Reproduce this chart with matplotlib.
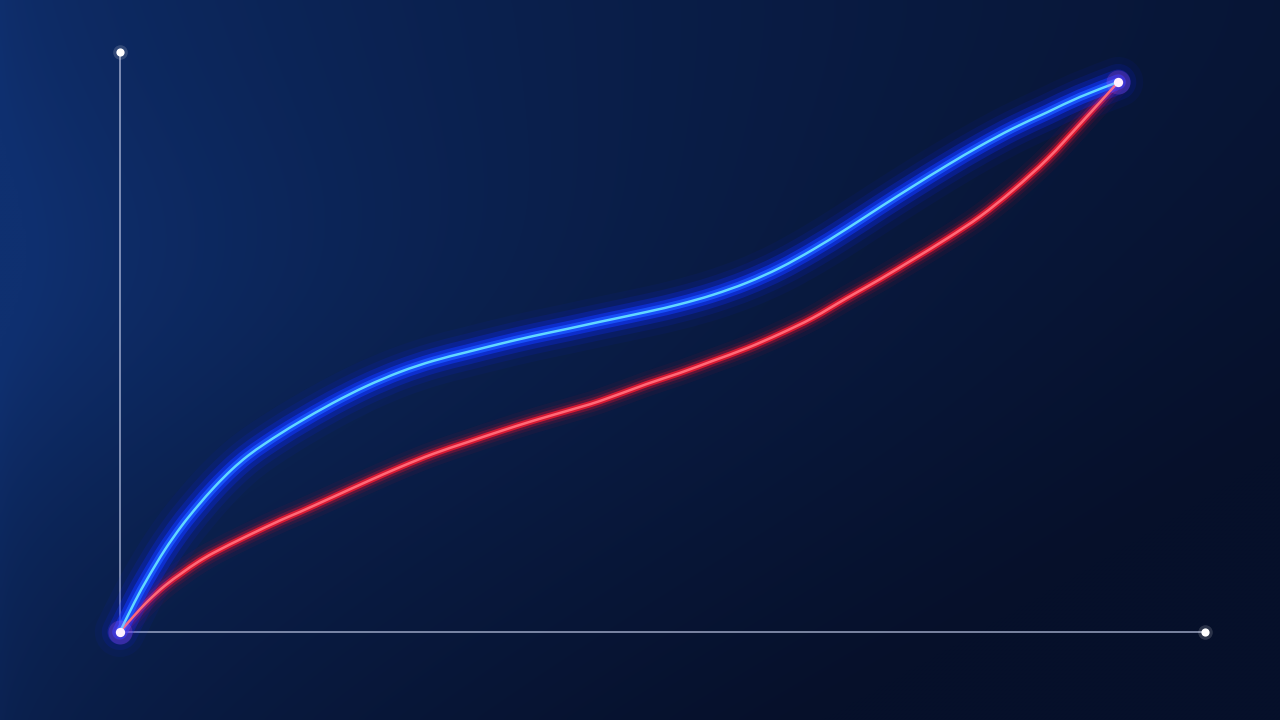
import matplotlib.pyplot as plt
import numpy as np
from matplotlib.path import Path
from matplotlib.patches import PathPatch

# values (arbitrary units, origin at 0, end at 10)
x_blue = [0, 0.15, 0.28, 0.45, 0.62, 0.78, 0.95, 1.12, 1.28, 1.45, 1.62, 1.80, 2.13, 2.47, 2.81,
          3.14, 3.48, 3.81, 4.14, 4.48, 4.81, 5.28, 5.61, 5.94, 6.28, 6.61, 6.94, 7.28, 7.62,
          7.95, 8.29, 8.62, 8.95, 9.29, 9.62, 10]
y_blue = [0, 0.55, 0.98, 1.49, 1.93, 2.29, 2.64, 2.95, 3.20, 3.42, 3.62, 3.82, 4.16, 4.47, 4.73,
          4.93, 5.09, 5.24, 5.38, 5.51, 5.64, 5.82, 5.96, 6.13, 6.35, 6.62, 6.95, 7.33, 7.73,
          8.11, 8.49, 8.84, 9.16, 9.45, 9.73, 10]
x_red = [0, 0.14, 0.28, 0.45, 0.62, 0.78, 0.95, 1.28, 1.62, 1.80, 2.13, 2.47, 2.81, 3.14, 3.48,
         3.81, 4.14, 4.48, 4.81, 5.28, 5.61, 5.94, 6.28, 6.61, 6.94, 7.28, 7.62, 7.95, 8.29,
         8.62, 8.95, 9.29, 9.62, 10]
y_red = [0, 0.29, 0.56, 0.84, 1.07, 1.27, 1.45, 1.75, 2.04, 2.18, 2.45, 2.73, 3.00, 3.24, 3.45,
         3.65, 3.84, 4.02, 4.20, 4.51, 4.71, 4.93, 5.16, 5.42, 5.71, 6.07, 6.42, 6.78, 7.16,
         7.56, 8.04, 8.60, 9.24, 10]
x_axis_end = 10.87
y_axis_end = 10.55

fig = plt.figure(figsize=(12.8, 7.2), dpi=100)
ax = fig.add_axes([0, 0, 1, 1])
x_lim = (-1.2, 11.62)
y_lim = (-1.6, 11.49)
ax.set_xlim(x_lim)
ax.set_ylim(y_lim)
ax.axis("off")

# background: brighter navy on the left, darker to the right and bottom
h, w = 180, 320
yy, xx = np.mgrid[0:1:h * 1j, 0:1:w * 1j]
t = 0.75 * xx ** 0.6 + 0.35 * yy ** 1.5 - 0.25 * np.exp(-((yy - 0.4) ** 2) / 0.08) * (1 - xx) ** 2
t = np.clip(t + 0.08, 0, 1)
light = np.array([15, 48, 112]) / 255
dark = np.array([6, 16, 42]) / 255
bg = light[None, None, :] * (1 - t[..., None]) + dark[None, None, :] * t[..., None]
ax.imshow(bg, extent=(x_lim[0], x_lim[1], y_lim[0], y_lim[1]), origin="upper",
          aspect="auto", zorder=0, interpolation="bicubic")

# axes lines
ax.plot([0, 0], [0, y_axis_end], color="#b8c2e0", lw=1.3, alpha=0.7, zorder=2)
ax.plot([0, x_axis_end], [0, 0], color="#b8c2e0", lw=1.3, alpha=0.7, zorder=2)
for px, py in [(0, y_axis_end), (x_axis_end, 0)]:
    ax.scatter(px, py, s=110, color="white", alpha=0.15, lw=0, zorder=3)
    ax.scatter(px, py, s=35, color="white", lw=0, zorder=4)


def smooth_path(x, y):
    # Catmull-Rom through the read points, drawn as cubic Bezier segments
    p = np.column_stack([x, y])
    verts = [p[0]]
    codes = [Path.MOVETO]
    for i in range(len(p) - 1):
        p0 = p[i - 1] if i > 0 else p[i]
        p3 = p[i + 2] if i + 2 < len(p) else p[i + 1]
        c1 = p[i] + (p[i + 1] - p0) / 6
        c2 = p[i + 1] - (p3 - p[i]) / 6
        verts += [c1, c2, p[i + 1]]
        codes += [Path.CURVE4] * 3
    return Path(verts, codes)


def glow_line(x, y, layers, core):
    path = smooth_path(x, y)
    for color, lw, a in layers:
        ax.add_patch(PathPatch(path, fill=False, edgecolor=color, lw=lw, alpha=a,
                               capstyle="round", joinstyle="round", zorder=5))
    ax.add_patch(PathPatch(path, fill=False, edgecolor=core, lw=1.8,
                           capstyle="round", zorder=7))


red_layers = [("#ff0a25", 18, 0.05), ("#ff0a25", 12, 0.10), ("#ff1030", 8, 0.25),
              ("#ff1a30", 4.5, 0.75)]
blue_layers = [("#0a20ff", 36, 0.06), ("#0a25ff", 26, 0.12), ("#0d2cff", 18, 0.28),
               ("#1038ff", 11, 0.55), ("#1a55ff", 6, 0.9)]
glow_line(x_red, y_red, red_layers, "#ff6a78")
glow_line(x_blue, y_blue, blue_layers, "#62d8ff")

# bright end points
for px, py in [(0, 0), (10, 10)]:
    ax.scatter(px, py, s=300, color="#d060ff", alpha=0.2, lw=0, zorder=8)
    ax.scatter(px, py, s=45, color="#fff0ff", lw=0, zorder=9)

fig.savefig("out.png", dpi=100)
